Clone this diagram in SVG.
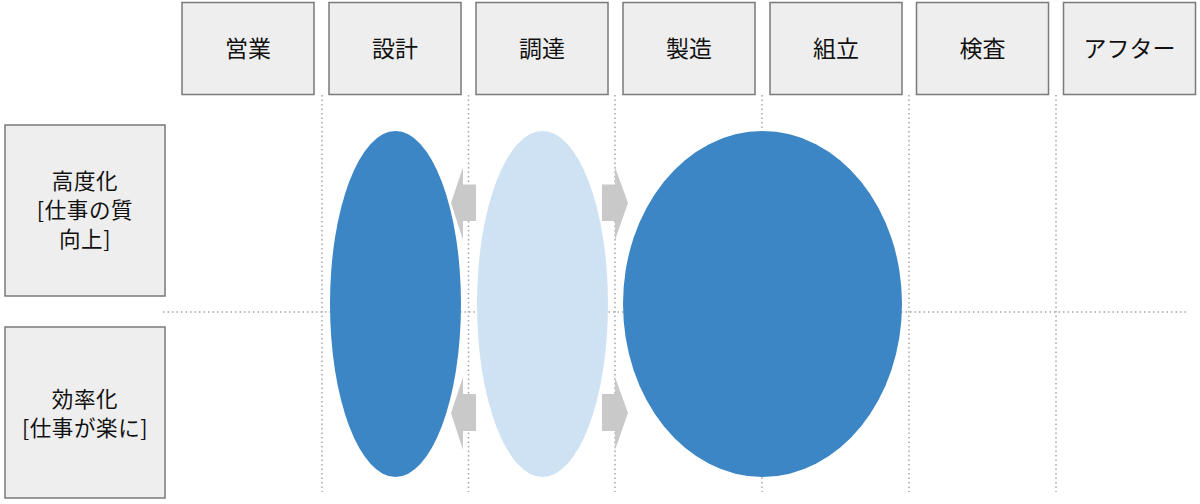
<svg xmlns="http://www.w3.org/2000/svg" width="1200" height="504" viewBox="0 0 1200 504">
<style>
.box{fill:#eeeeee;stroke:#7a7a7a;stroke-width:1.5}
.t{font-family:"Noto Sans CJK JP","Noto Sans",sans-serif;font-size:23px;fill:#111;text-anchor:middle}
.s{font-size:21.5px;letter-spacing:0.6px}
.dot{stroke:#a6a6a6;stroke-width:1.5;stroke-dasharray:1.5 3;fill:none}
.arr{fill:#c9c9c9}
</style>
<rect width="1200" height="504" fill="#ffffff"/>
<g id="grid">
<line class="dot" x1="163" y1="312" x2="1186" y2="312"/>
<line class="dot" x1="322" y1="95" x2="322" y2="492"/>
<line class="dot" x1="468.5" y1="95" x2="468.5" y2="492"/>
<line class="dot" x1="615" y1="95" x2="615" y2="492"/>
<line class="dot" x1="762" y1="95" x2="762" y2="492"/>
<line class="dot" x1="909" y1="95" x2="909" y2="492"/>
<line class="dot" x1="1056" y1="95" x2="1056" y2="492"/>
</g>
<g id="h1"><rect class="box" x="182" y="2.5" width="132" height="92"/><text class="t" x="248" y="57">営業</text></g>
<g id="h2"><rect class="box" x="329" y="2.5" width="132" height="92"/><text class="t" x="395" y="57">設計</text></g>
<g id="h3"><rect class="box" x="476" y="2.5" width="132" height="92"/><text class="t" x="542" y="57">調達</text></g>
<g id="h4"><rect class="box" x="623" y="2.5" width="132" height="92"/><text class="t" x="689" y="57">製造</text></g>
<g id="h5"><rect class="box" x="770" y="2.5" width="132" height="92"/><text class="t" x="836" y="57">組立</text></g>
<g id="h6"><rect class="box" x="916.5" y="2.5" width="132" height="92"/><text class="t" x="982.5" y="57">検査</text></g>
<g id="h7"><rect class="box" x="1063.5" y="2.5" width="132" height="92"/><text class="t" x="1129.5" y="57">アフター</text></g>
<g id="r1"><rect class="box" x="5" y="125" width="160" height="171"/>
<text class="t s" x="85" y="189">高度化</text>
<text class="t s" x="85" y="218">[仕事の質</text>
<text class="t s" x="85" y="247">向上]</text></g>
<g id="r2"><rect class="box" x="5" y="327" width="160" height="171"/>
<text class="t s" x="85" y="407">効率化</text>
<text class="t s" x="85" y="436">[仕事が楽に]</text></g>
<g id="e1"><ellipse cx="395.5" cy="304" rx="65.5" ry="173" fill="#3d86c6"/></g>
<g id="e2"><ellipse cx="542.5" cy="304" rx="65.5" ry="173" fill="#cfe2f3"/></g>
<g id="e3"><ellipse cx="762.5" cy="304" rx="139.5" ry="173" fill="#3d86c6"/></g>
<g id="connectors">
<polygon class="arr" points="451,203 463,167 463,184.5 476,184.5 476,221 463,221 463,240"/>
<polygon class="arr" points="628,203 615,167 615,184.5 602,184.5 602,221 615,221 615,240"/>
<polygon class="arr" points="451,413 463,377 463,394 476,394 476,431 463,431 463,450"/>
<polygon class="arr" points="628,413 615,377 615,394 602,394 602,431 615,431 615,450"/>
</g>
</svg>
